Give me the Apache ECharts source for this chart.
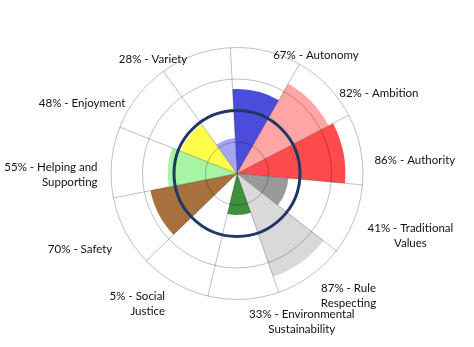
<!DOCTYPE html>
<html><head><meta charset="utf-8">
<script src="https://cdn.jsdelivr.net/npm/echarts@6/dist/echarts.min.js"></script>
<style>html,body{margin:0;padding:0;background:#fff}#c{width:474px;height:347px}</style>
</head><body><div id="c"></div>
<script>
// Categories (clockwise from the top); "\n" marks where the label wraps
const categories = ['Autonomy', 'Ambition', 'Authority', 'Traditional\nValues', 'Rule\nRespecting',
  'Environmental\nSustainability', 'Social\nJustice', 'Safety', 'Helping and\nSupporting', 'Enjoyment', 'Variety'];
// Percent values
const values = [67, 82, 86, 41, 87, 33, 5, 70, 55, 48, 28];
// Radial tick values (percent)
const radialTicks = [0, 25, 50, 75, 100];
const referenceLevel = 50;

const barColors = ['#4b4bdc', '#ffa5a5', '#ff4b4b', '#999999', '#d9d9d9', '#3f8f3f',
  '#f2f2f2', '#a8703c', '#a5f5a5', '#ffff4b', '#a5a5f5'];
const gridColor = 'rgba(0,0,0,0.25)';
const navy = '#1f3864';
const CENTER = [237, 173.5];
const RADIUS = 126;
const START = 93;

const labels = categories.map((c, i) => values[i] + '% - ' + c);
const n = categories.length;
// labels on the right-hand half get centred lines, left-hand half keep right-aligned lines
function isRightSide(i) {
  const mid = (START - (i + 0.5) * 360 / n) * Math.PI / 180;
  return Math.cos(mid) >= 0;
}

const chart = echarts.init(document.getElementById('c'), null, {renderer: 'canvas'});
chart.setOption({
  animation: false,
  backgroundColor: '#ffffff',
  textStyle: {fontFamily: 'Lato'},
  polar: [{center: CENTER, radius: RADIUS}, {center: CENTER, radius: RADIUS}],
  angleAxis: [
    {polarIndex: 0, type: 'category', data: categories, startAngle: START, clockwise: true, z: 10,
      axisLine: {show: true, lineStyle: {color: gridColor, width: 1}},
      axisTick: {show: false}, axisLabel: {show: false},
      splitLine: {show: true, lineStyle: {color: gridColor, width: 1}}},
    {polarIndex: 1, type: 'value', min: 0, max: 360, startAngle: START,
      axisLine: {show: false}, axisTick: {show: false}, axisLabel: {show: false}, splitLine: {show: false}}
  ],
  radiusAxis: [
    {polarIndex: 0, type: 'value', min: radialTicks[0], max: radialTicks[radialTicks.length - 1], interval: 25, z: 10,
      axisLine: {show: false}, axisTick: {show: false}, axisLabel: {show: false},
      splitLine: {show: true, lineStyle: {color: radialTicks.map(t => (t === 25 || t === 75) ? gridColor : 'rgba(0,0,0,0)'), width: 1}}},
    {polarIndex: 1, type: 'value', min: 0, max: 100, interval: referenceLevel, z: 11,
      axisLine: {show: false}, axisTick: {show: false}, axisLabel: {show: false},
      splitLine: {show: true, lineStyle: {color: ['rgba(0,0,0,0)', navy, 'rgba(0,0,0,0)'], width: 3}}}
  ],
  series: [
    {type: 'bar', coordinateSystem: 'polar', polarIndex: 0, barCategoryGap: '0%', silent: true, z: 2,
      data: values.map((v, i) => ({value: v, itemStyle: {color: barColors[i]}}))},
    {type: 'pie', center: CENTER, radius: [0, RADIUS], startAngle: START, clockwise: true,
      silent: true, avoidLabelOverlap: false, z: 1,
      itemStyle: {color: 'rgba(0,0,0,0)'},
      label: {show: true, position: 'outside', color: '#111', fontSize: 11.5, fontFamily: 'Lato', lineHeight: 15,
        distanceToLabelLine: 5, overflow: 'none',
        formatter: function (p) {
          if (!isRightSide(p.dataIndex)) return p.name;
          return p.name.split('\n').map(s => '{c|' + s + '}').join('\n');
        },
        rich: {c: {align: 'center', color: '#111', fontSize: 11.5, fontFamily: 'Lato', lineHeight: 15}}},
      labelLine: {show: false, length: 9, length2: 0},
      labelLayout: function () { return {dy: 13, hideOverlap: false}; },
      emphasis: {disabled: true},
      data: labels.map(l => ({name: l, value: 1}))}
  ]
});
</script></body></html>
